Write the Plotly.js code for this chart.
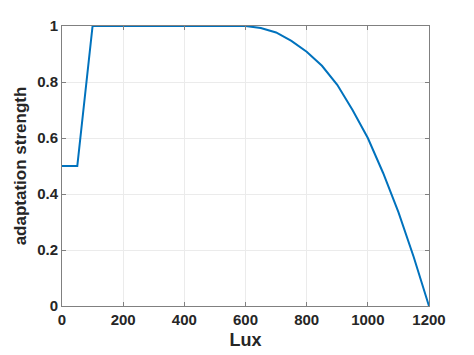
<!DOCTYPE html>
<html>
<head>
<meta charset="utf-8">
<script src="https://cdn.plot.ly/plotly-3.0.1.min.js"></script>
<style>html,body{margin:0;padding:0;background:#fff;}#chart{width:474px;height:355px;}</style>
</head>
<body>
<div id="chart"></div>
<script>
const lux = [0, 50, 100, 150, 200, 250, 300, 350, 400, 450, 500, 550, 600, 650, 700, 750, 800, 850, 900, 950, 1000, 1050, 1100, 1150, 1200];
const strength = [0.5, 0.5, 1, 1, 1, 1, 1, 1, 1, 1, 1, 1, 1, 0.993, 0.977, 0.947, 0.908, 0.858, 0.79, 0.70, 0.60, 0.475, 0.335, 0.175, 0];
const xTicks = [0, 200, 400, 600, 800, 1000, 1200];
const yTicks = [0, 0.2, 0.4, 0.6, 0.8, 1];
const yTickText = ['0', '0.2', '0.4', '0.6', '0.8', '1'];

const fam = 'Liberation Sans, Arial, sans-serif';
const axisCommon = {
  showline: true, linecolor: '#808080', linewidth: 1, mirror: 'ticks',
  ticks: 'inside', ticklen: 4, tickcolor: '#808080', tickwidth: 1,
  showgrid: true, gridcolor: '#ebebeb', gridwidth: 1, zeroline: false,
  tickfont: {family: fam, size: 15, color: '#262626', weight: 'bold'}
};

Plotly.newPlot('chart', [{
  x: lux, y: strength, type: 'scatter', mode: 'lines',
  line: {color: '#0072BD', width: 2}
}], {
  width: 474, height: 355,
  margin: {l: 62, r: 45, t: 26, b: 49},
  paper_bgcolor: '#fff', plot_bgcolor: '#fff',
  showlegend: false,
  xaxis: Object.assign({}, axisCommon, {
    range: [0, 1200], tickvals: xTicks, ticktext: xTicks.map(String),
    title: {text: 'Lux', standoff: 6, font: {family: fam, size: 18, color: '#262626', weight: 'bold'}}
  }),
  yaxis: Object.assign({}, axisCommon, {
    range: [0, 1], tickvals: yTicks, ticktext: yTickText,
    title: {text: 'adaptation strength', standoff: 6, font: {family: fam, size: 17, color: '#262626', weight: 'bold'}}
  })
}, {displayModeBar: false, staticPlot: true});
</script>
</body>
</html>
